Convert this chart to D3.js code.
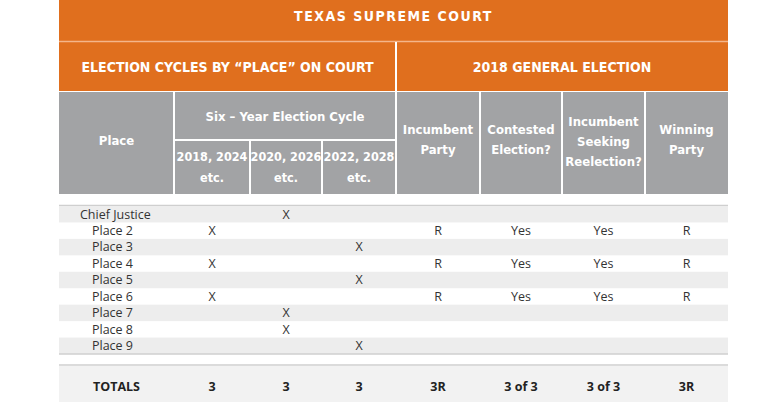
<!DOCTYPE html><html><head><meta charset="utf-8">
<script src="https://cdn.jsdelivr.net/npm/d3@7"></script>
<style>body{margin:0;background:#fff}</style></head><body><svg id="c" width="768" height="402"></svg>
<script>
const places=["Chief Justice","Place 2","Place 3","Place 4","Place 5","Place 6","Place 7","Place 8","Place 9"];
const cycle2018=["","X","","X","","X","","",""];
const cycle2020=["X","","","","","","X","X",""];
const cycle2022=["","","X","","X","","","","X"];
const incumbentParty=["","R","","R","","R","","",""];
const contested=["","Yes","","Yes","","Yes","","",""];
const seeking=["","Yes","","Yes","","Yes","","",""];
const winning=["","R","","R","","R","","",""];
const totals=["TOTALS","3","3","3","3R","3 of 3","3 of 3","3R"];
const colHeads=["Incumbent\nParty","Contested\nElection?","Incumbent\nSeeking\nReelection?","Winning\nParty"];
const cycleHeads=["2018, 2024\netc.","2020, 2026\netc.","2022, 2028\netc."];

const svg=d3.select("#c");
const xs=[59,174,250,322,396,480,562,645,728];
const OR="#E06F1E",GR="#A2A3A5",HF="DejaVu Sans Condensed, sans-serif";
function rect(x,y,w,h,f){svg.append("rect").attr("x",x).attr("y",y).attr("width",w).attr("height",h).attr("fill",f);}
function line(x1,y1,x2,y2,c,w){svg.append("line").attr("x1",x1).attr("y1",y1).attr("x2",x2).attr("y2",y2).attr("stroke",c).attr("stroke-width",w||1.5);}
function mtext(x,cy,s,opt){const ls=s.split("\n"),lh=opt.lh||20;const t=svg.append("text").attr("x",x).attr("text-anchor",opt.anchor||"middle").attr("font-family",opt.font||HF).attr("font-weight",opt.weight||"bold").attr("font-size",opt.size||13).attr("fill",opt.fill||"#fff").attr("letter-spacing",opt.ls||0);
 ls.forEach((l,i)=>t.append("tspan").attr("x",x).attr("y",cy+(i-(ls.length-1)/2)*lh).attr("dy","0.35em").text(l));}
// bands
rect(59,0,669,41,OR);rect(59,42,669,49,OR);line(59,41.5,728,41.5,"#f4b58a",1.5);line(396,42,396,91,"#fff",2);
rect(59,92,669,102,GR);
mtext(393.5,16,"TEXAS SUPREME COURT",{size:14,ls:1.5});
mtext(227.5,67,"ELECTION CYCLES BY \u201CPLACE\u201D ON COURT",{size:14});
mtext(562,67,"2018 GENERAL ELECTION",{size:14});
[174,396,480,562,645].forEach(x=>line(x,92,x,194,"#fff",2));
[250,322].forEach(x=>line(x,140,x,194,"#fff",2));
line(174,140,396,140,"#fff",2);
mtext(116.5,140,"Place",{size:13});
mtext(285,116,"Six \u2013 Year Election Cycle",{size:13});
cycleHeads.forEach((h,i)=>mtext((xs[i+1]+xs[i+2])/2,167,h,{size:12.5,lh:21}));
colHeads.forEach((h,i)=>mtext((xs[i+4]+xs[i+5])/2,h.split("\n").length>2?141:139,h,{size:13,lh:20}));
// body
const y=d3.scaleBand().domain(places).range([206,354]);
line(59,205.5,728,205.5,"#cfcfcf",1.5);
places.forEach((p,i)=>{ if(i%2==0) rect(59,y(p),669,y.bandwidth(),"#ededed");});
line(59,354,728,354,"#cfcfcf",1.5);line(59,365,728,365,"#cfcfcf",1.5);
rect(59,366,669,36,"#f2f2f2");
const BF="Open Sans, sans-serif";
const cols=[cycle2018,cycle2020,cycle2022,incumbentParty,contested,seeking,winning];
places.forEach((p,i)=>{
 const cy=y(p)+y.bandwidth()/2;
 mtext(i==0?80:92,cy,p,{anchor:"start",font:BF,weight:"normal",size:12.5,fill:"#333"});
 cols.forEach((c,j)=>{ if(c[i]) mtext((xs[j+1]+xs[j+2])/2,cy,c[i],{font:BF,weight:"normal",size:12.5,fill:"#333"});});
});
totals.forEach((t,j)=>mtext((xs[j]+xs[j+1])/2,387,t,{font:BF,weight:"bold",size:12.5,fill:"#222"}));
</script></body></html>
